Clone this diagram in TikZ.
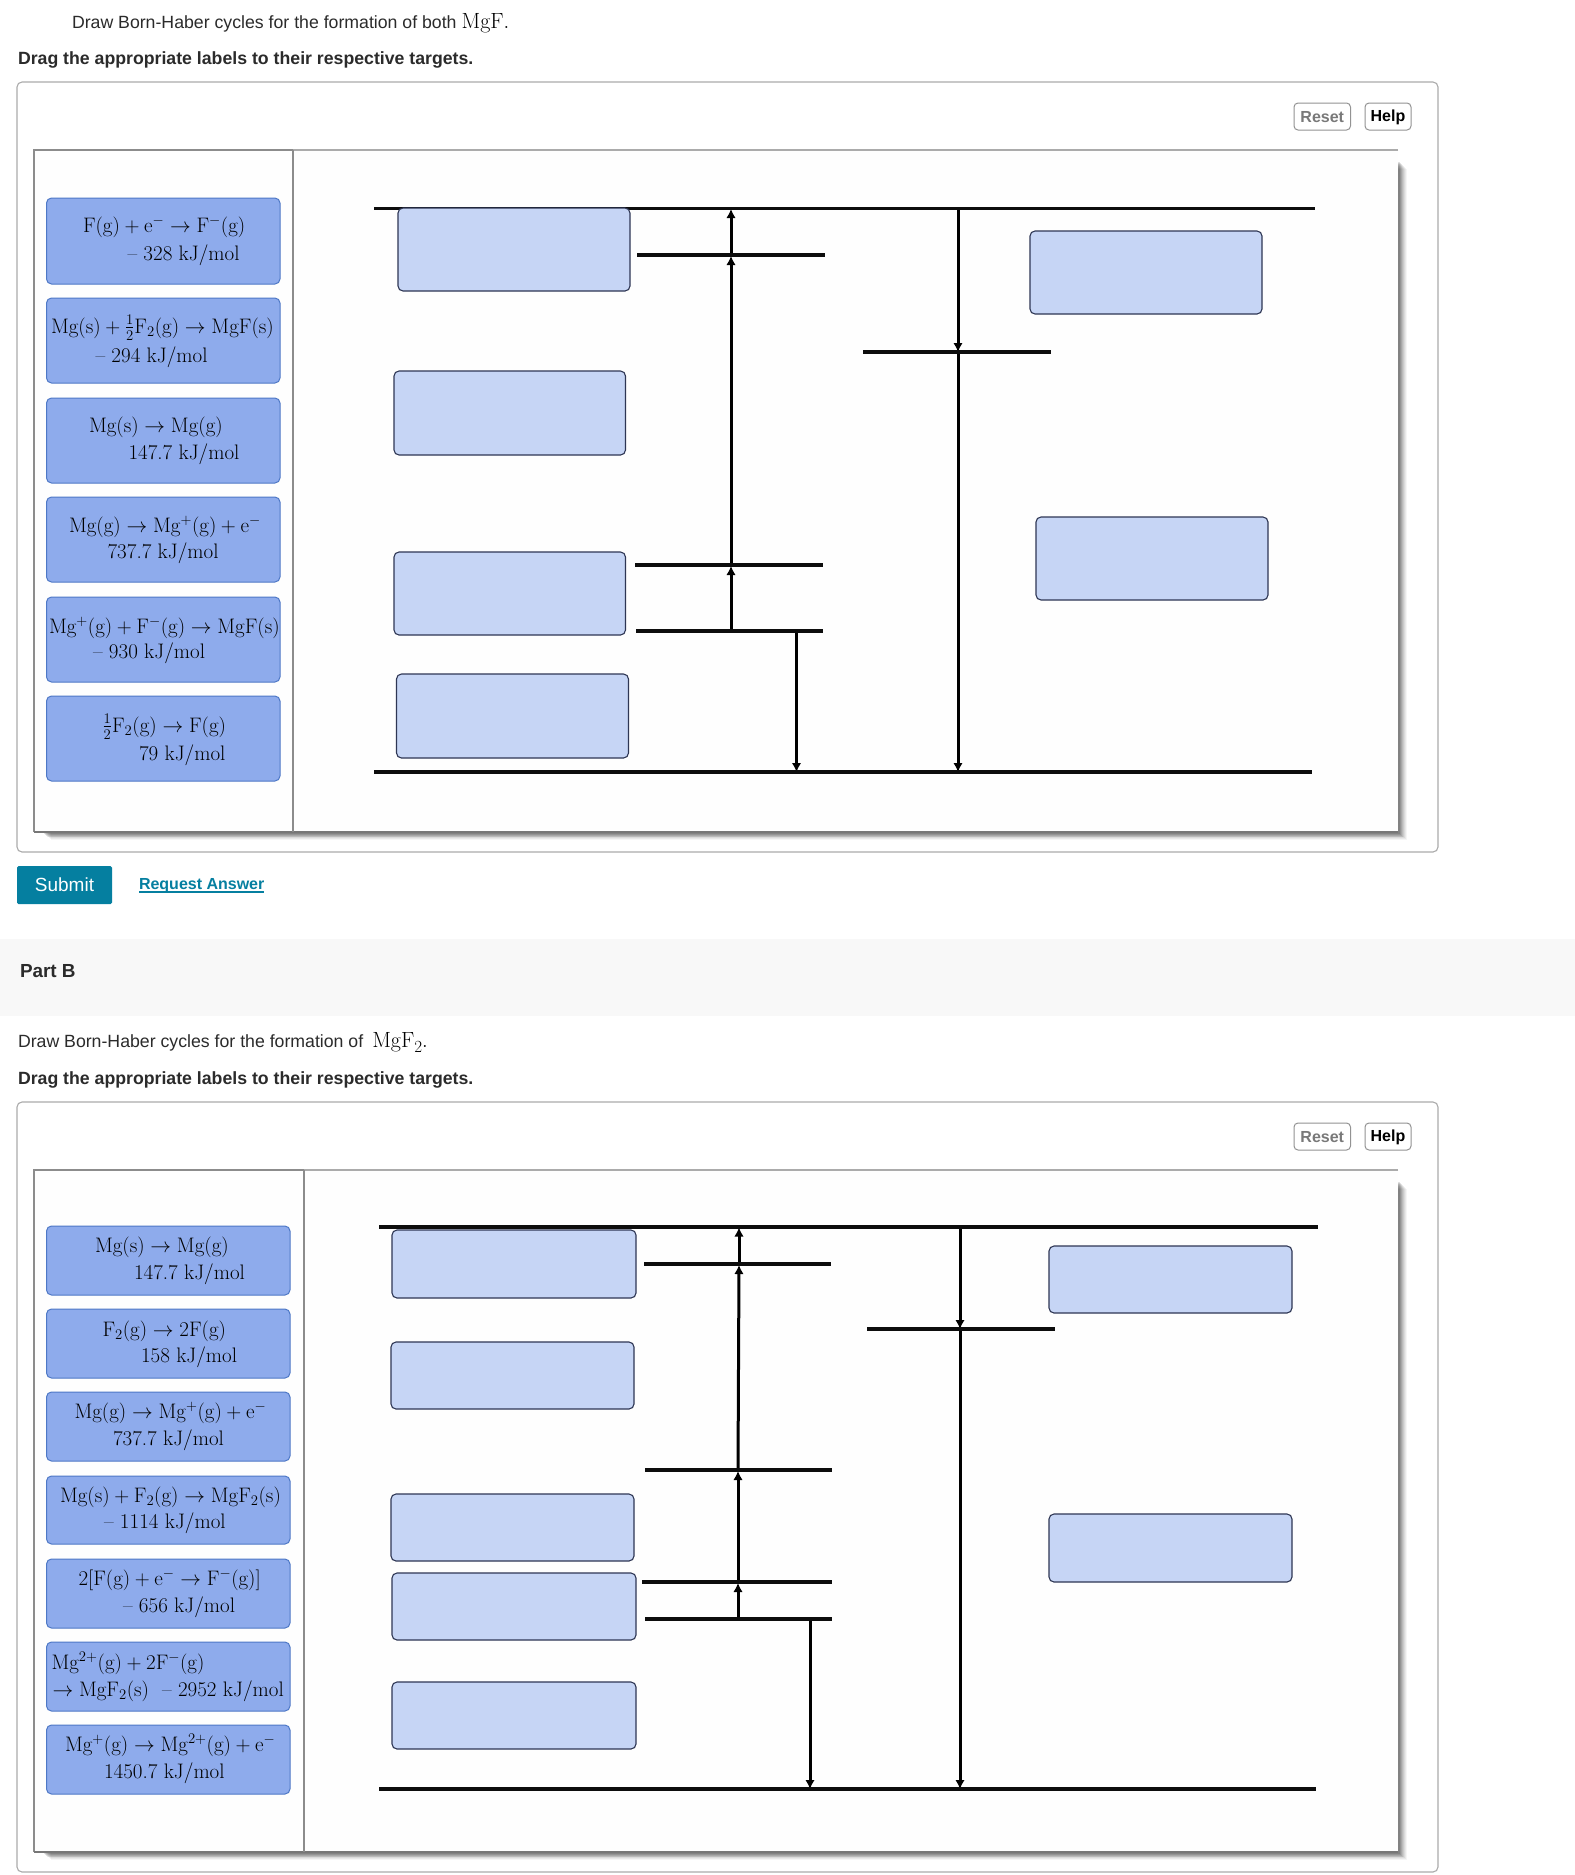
\documentclass[tikz,border=0pt]{standalone}
\usepackage{fontspec}
\usepackage{amsmath}
\usetikzlibrary{arrows.meta}
\newfontfamily\uisans{Liberation Sans}
\definecolor{lblfill}{HTML}{8EABEC}
\definecolor{lbledge}{HTML}{4E78C6}
\definecolor{tgtfill}{HTML}{C6D5F5}
\definecolor{tgtedge}{HTML}{2E3654}
\definecolor{cardedge}{HTML}{ABABAB}
\definecolor{paneledge}{HTML}{8C8C8C}
\definecolor{panelbg}{HTML}{FEFEFE}
\definecolor{teal}{HTML}{057FA0}
\definecolor{bandgray}{HTML}{F8F8F8}
\definecolor{uitext}{HTML}{2B2B2B}
\newcommand{\rbox}[6]{%
  \pgfmathsetmacro{\rbw}{#5-#3}\pgfmathsetmacro{\rbh}{#6-#4}%
  \pgfmathsetmacro{\rbx}{(#3+#5)/2}\pgfmathsetmacro{\rby}{(#4+#6)/2}%
  \node[#2,minimum width=\rbw pt,minimum height=\rbh pt] (#1) at (\rbx,\rby) {};}
\newcommand{\eqline}[3]{\node[eqtxt] at (#1,#2) {#3};}
\newcommand{\panelshadow}[4]{%
  \foreach \s/\o in {9/.04,8/.05,7/.06,6/.07,5/.08,4/.1,3/.11,2/.12}{%
    \fill[black,opacity=\o] (#1+\s+8,#2+\s+10) rectangle (#3+\s,#4+\s*.9);}}
\tikzset{
  card/.style={draw=cardedge,line width=1.1pt,rounded corners=5pt,fill=white,inner sep=0pt,outer sep=0pt},
  labelbox/.style={draw=lbledge,line width=1pt,rounded corners=5pt,fill=lblfill,inner sep=0pt,outer sep=0pt},
  targetbox/.style={draw=tgtedge,line width=1.1pt,rounded corners=5pt,fill=tgtfill,inner sep=0pt,outer sep=0pt},
  uibtn/.style={draw=gray!85,line width=1pt,rounded corners=4pt,fill=white,inner sep=0pt,outer sep=0pt},
  eqtxt/.style={anchor=base west,inner sep=0pt,outer sep=0pt,text=black,font=\fontsize{21}{25}\selectfont},
  uitxt/.style={anchor=base west,inner sep=0pt,outer sep=0pt,text=uitext,font=\fontsize{17.7}{21}\uisans},
  level/.style={line width=3.4pt,black!95},
  riser/.style={line width=3pt,black,-{Latex[length=9pt,width=9.5pt]}},
}
\begin{document}
\begin{tikzpicture}[x=1pt,y=-1pt]
\useasboundingbox (0,0) rectangle (1575,1875);
\fill[white] (0,0) rectangle (1575,1875);

% ---------- Part A header
\node[uitxt] (introA) at (72,28) {Draw Born-Haber cycles for the formation of both {\color{black}\fontsize{22}{26}\selectfont$\mathrm{MgF.}$}};
\node[uitxt,font=\fontsize{17.7}{21}\uisans\bfseries] (dragA) at (18,64) {Drag the appropriate labels to their respective targets.};

\rbox{cardA}{card}{17}{82}{1438}{852}
\panelshadow{34}{150}{1398}{832}
\fill[panelbg] (34,150) rectangle (1398,832);
\draw[cardedge,line width=1.1pt] (1398,150) -- (293,150);
\draw[paneledge,line width=1.1pt] (293,150) -- (34,150) -- (34,832);
\draw[paneledge!85!black,line width=1.6pt] (34,832) -- (1398,832);
\draw[paneledge,line width=1.2pt] (293,150) -- (293,832);

\rbox{resetA}{uibtn}{1294}{103}{1350.5}{130}
\rbox{helpA}{uibtn}{1365}{103}{1411}{130}
\node[font=\fontsize{16}{19}\uisans\bfseries,text=gray!95!black,inner sep=0pt] at ([yshift=-.6pt]resetA.center) {Reset};
\node[font=\fontsize{16}{19}\uisans\bfseries,text=black,inner sep=0pt] at ([yshift=-.6pt]helpA.center) {Help};

% labels A
\rbox{la1}{labelbox}{46.5}{198}{280}{284}
\rbox{la2}{labelbox}{46.5}{298}{280}{383}
\rbox{la3}{labelbox}{46.5}{398}{280}{483}
\rbox{la4}{labelbox}{46.5}{497}{280}{582}
\rbox{la5}{labelbox}{46.5}{597}{280}{682}
\rbox{la6}{labelbox}{46.5}{696}{280}{781}
\eqline{83}{232}{$\mathrm{F(g)+e^-\rightarrow F^-(g)}$}
\eqline{127.5}{260.5}{-- 328 kJ/mol}
\eqline{51}{333}{$\mathrm{Mg(s)+\frac{1}{2}F_2(g)\rightarrow MgF(s)}$}
\eqline{95.5}{362.5}{-- 294 kJ/mol}
\eqline{89}{432}{$\mathrm{Mg(s)\rightarrow Mg(g)}$}
\eqline{128.5}{459.5}{147.7 kJ/mol}
\eqline{69}{532}{$\mathrm{Mg(g)\rightarrow Mg^+(g)+e^-}$}
\eqline{107.6}{558.5}{737.7 kJ/mol}
\eqline{49}{633}{$\mathrm{Mg^+(g)+F^-(g)\rightarrow MgF(s)}$}
\eqline{93}{658.5}{-- 930 kJ/mol}
\eqline{102.5}{732}{$\mathrm{\frac{1}{2}F_2(g)\rightarrow F(g)}$}
\eqline{139}{760.5}{79 kJ/mol}

% cycle A: levels
\coordinate (a0l) at (374,208.5); \coordinate (a0r) at (1315,208.5);
\coordinate (a1l) at (637,255); \coordinate (a1r) at (825,255);
\coordinate (a2l) at (635,565); \coordinate (a2r) at (823,565);
\coordinate (a3l) at (636,631); \coordinate (a3r) at (823,631);
\coordinate (a4l) at (863,352); \coordinate (a4r) at (1051,352);
\coordinate (a5l) at (374,772); \coordinate (a5r) at (1312,772);
\coordinate (v0) at (731,209); \coordinate (v1) at (731,256); \coordinate (v2) at (731,566); \coordinate (v3) at (731,631);
\coordinate (w0) at (796.5,631); \coordinate (w1) at (796.5,772);
\coordinate (u0) at (958,208.5); \coordinate (u1) at (958,352); \coordinate (u2) at (958,772);
\draw[riser] (v1) -- (v0);
\draw[riser] (v2) -- (v1);
\draw[riser] (v3) -- (v2);
\draw[riser] (w0) -- (w1);
\draw[riser] (u0) -- (u1);
\draw[riser] (u1) -- (u2);
\foreach \n in {0,...,5}{\draw[level] (a\n l) -- (a\n r);}
% targets A
\rbox{ta1}{targetbox}{398}{208}{630}{291}
\rbox{ta2}{targetbox}{394}{371}{625.5}{455}
\rbox{ta3}{targetbox}{394}{552}{625.5}{635}
\rbox{ta4}{targetbox}{396.5}{674}{628.5}{758}
\rbox{ta5}{targetbox}{1030}{231}{1262}{314}
\rbox{ta6}{targetbox}{1036}{517}{1268}{600}

% submit row
\node[fill=teal,rounded corners=1.5pt,minimum width=95pt,minimum height=38pt,inner sep=0pt,text=white,font=\fontsize{19}{22}\uisans] (submit) at (64.5,885) {Submit};
\node[uitxt,text=teal,font=\fontsize{16}{19}\uisans\bfseries] (request) at (139,889) {Request Answer};
\draw[teal,line width=1.1pt] (139,892) -- (264,892);

% Part B band
\fill[bandgray] (0,939) rectangle (1575,1016);
\node[uitxt,font=\fontsize{18.9}{22}\uisans\bfseries] (partb) at (20,977) {Part B};
\node[uitxt] (introB) at (18,1047) {Draw Born-Haber cycles for the formation of\hspace{9pt}{\color{black}\fontsize{22}{26}\selectfont$\mathrm{MgF}$\raisebox{-5.5pt}{\fontsize{17}{20}\selectfont$\mathrm{2}$}$\mathrm{.}$}};
\node[uitxt,font=\fontsize{17.7}{21}\uisans\bfseries] (dragB) at (18,1084) {Drag the appropriate labels to their respective targets.};

\rbox{cardB}{card}{17}{1102}{1438}{1872}
\panelshadow{34}{1170}{1398}{1852}
\fill[panelbg] (34,1170) rectangle (1398,1852);
\draw[cardedge,line width=1.1pt] (1398,1170) -- (304,1170);
\draw[paneledge,line width=1.1pt] (304,1170) -- (34,1170) -- (34,1852);
\draw[paneledge!85!black,line width=1.6pt] (34,1852) -- (1398,1852);
\draw[paneledge,line width=1.2pt] (304,1170) -- (304,1852);

\rbox{resetB}{uibtn}{1294}{1123}{1350.5}{1150}
\rbox{helpB}{uibtn}{1365}{1123}{1411}{1150}
\node[font=\fontsize{16}{19}\uisans\bfseries,text=gray!95!black,inner sep=0pt] at ([yshift=-.6pt]resetB.center) {Reset};
\node[font=\fontsize{16}{19}\uisans\bfseries,text=black,inner sep=0pt] at ([yshift=-.6pt]helpB.center) {Help};

% labels B
\rbox{lb1}{labelbox}{46.5}{1226}{290}{1295}
\rbox{lb2}{labelbox}{46.5}{1309}{290}{1378}
\rbox{lb3}{labelbox}{46.5}{1392}{290}{1461}
\rbox{lb4}{labelbox}{46.5}{1476}{290}{1544}
\rbox{lb5}{labelbox}{46.5}{1559}{290}{1628}
\rbox{lb6}{labelbox}{46.5}{1642}{290}{1711}
\rbox{lb7}{labelbox}{46.5}{1725}{290}{1794}
\eqline{95}{1252}{$\mathrm{Mg(s)\rightarrow Mg(g)}$}
\eqline{134}{1279.5}{147.7 kJ/mol}
\eqline{102.5}{1336}{$\mathrm{F_2(g)\rightarrow 2F(g)}$}
\eqline{141}{1362.5}{158 kJ/mol}
\eqline{74.5}{1418}{$\mathrm{Mg(g)\rightarrow Mg^+(g)+e^-}$}
\eqline{113}{1445.5}{737.7 kJ/mol}
\eqline{60}{1502}{$\mathrm{Mg(s)+F_2(g)\rightarrow MgF_2(s)}$}
\eqline{104}{1528.5}{-- 1114 kJ/mol}
\eqline{78.5}{1585}{$\mathrm{2[F(g)+e^-\rightarrow F^-(g)]}$}
\eqline{123}{1612.5}{-- 656 kJ/mol}
\eqline{51.5}{1669}{$\mathrm{Mg^{2+}(g)+2F^-(g)}$}
\eqline{52.5}{1696.5}{$\mathrm{\rightarrow MgF_2(s)}$\hspace{13pt}-- 2952 kJ/mol}
\eqline{65}{1751}{$\mathrm{Mg^+(g)\rightarrow Mg^{2+}(g)+e^-}$}
\eqline{104}{1778.5}{1450.7 kJ/mol}

% cycle B
\coordinate (b0l) at (379,1227); \coordinate (b0r) at (1318,1227);
\coordinate (b1l) at (644,1264); \coordinate (b1r) at (831,1264);
\coordinate (b2l) at (645,1470); \coordinate (b2r) at (832,1470);
\coordinate (b3l) at (642,1582); \coordinate (b3r) at (832,1582);
\coordinate (b4l) at (645,1619); \coordinate (b4r) at (832,1619);
\coordinate (b5l) at (867,1329); \coordinate (b5r) at (1055,1329);
\coordinate (b6l) at (379,1789); \coordinate (b6r) at (1316,1789);
\coordinate (p0) at (739,1227.5); \coordinate (p1) at (739,1265); \coordinate (p2) at (738,1471); \coordinate (p3) at (738,1583); \coordinate (p4) at (738,1619);
\coordinate (q0) at (810,1619); \coordinate (q1) at (810,1789);
\coordinate (r0) at (960,1227); \coordinate (r1) at (960,1329); \coordinate (r2) at (960,1789);
\draw[riser] (p1) -- (p0);
\draw[riser] (p2) -- (p1);
\draw[riser] (p3) -- (p2);
\draw[riser] (p4) -- (p3);
\draw[riser] (q0) -- (q1);
\draw[riser] (r0) -- (r1);
\draw[riser] (r1) -- (r2);
\foreach \n in {0,...,6}{\draw[level] (b\n l) -- (b\n r);}
% targets B
\rbox{tb1}{targetbox}{392}{1230}{636}{1298}
\rbox{tb2}{targetbox}{391}{1342}{634}{1409}
\rbox{tb3}{targetbox}{391}{1494}{634}{1561}
\rbox{tb4}{targetbox}{392}{1573}{636}{1640}
\rbox{tb5}{targetbox}{392}{1682}{636}{1749}
\rbox{tb6}{targetbox}{1049}{1246}{1292}{1313}
\rbox{tb7}{targetbox}{1049}{1514}{1292}{1582}
\end{tikzpicture}
\end{document}
